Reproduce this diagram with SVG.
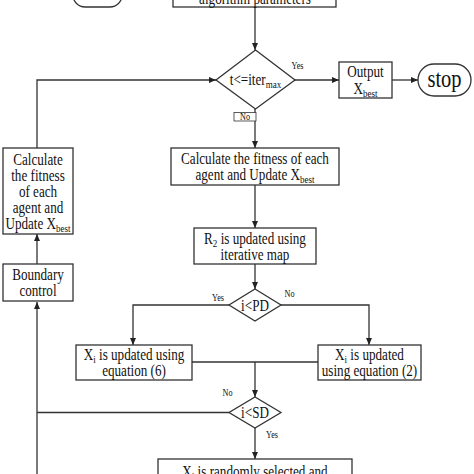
<svg xmlns="http://www.w3.org/2000/svg" width="474" height="474" viewBox="0 0 474 474">
<style>
.box{fill:#fff;stroke:#333;stroke-width:1.3}
.ln{fill:none;stroke:#333;stroke-width:1.3}
.t{font-family:"Liberation Serif","Times New Roman",serif;font-size:16px;fill:#111;text-anchor:middle}
.s{font-size:11px}
.sm{font-family:"Liberation Serif","Times New Roman",serif;font-size:10px;fill:#111;text-anchor:middle}
</style>
<defs>
<marker id="arr" markerUnits="userSpaceOnUse" markerWidth="7" markerHeight="6" refX="7" refY="3" orient="auto">
<path d="M0,0 L7,3 L0,6 z" fill="#222"/>
</marker>
</defs>
<rect width="474" height="474" fill="#fff"/>
<g id="connectors">
<path class="ln" d="M255,7 V50" marker-end="url(#arr)"/>
<path class="ln" d="M295,80 H339" marker-end="url(#arr)"/>
<path class="ln" d="M392,80 H418" marker-end="url(#arr)"/>
<path class="ln" d="M255,109 V148" marker-end="url(#arr)"/>
<path class="ln" d="M37,148 V80 H216" marker-end="url(#arr)"/>
<path class="ln" d="M255,185 V228" marker-end="url(#arr)"/>
<path class="ln" d="M255,264 V289" marker-end="url(#arr)"/>
<path class="ln" d="M229,305 H133 V345" marker-end="url(#arr)"/>
<path class="ln" d="M281,305 H369 V345" marker-end="url(#arr)"/>
<path class="ln" d="M192,362 H318"/>
<path class="ln" d="M255,362 V397" marker-end="url(#arr)"/>
<path class="ln" d="M229,412.5 H37"/>
<path class="ln" d="M255,428 V459" marker-end="url(#arr)"/>
<path class="ln" d="M37,480 V302" marker-end="url(#arr)"/>
<path class="ln" d="M37,264 V234" marker-end="url(#arr)"/>
</g>
<g id="start">
<rect class="box" x="73" y="-25" width="49" height="32" rx="12"/>
</g>
<g id="init">
<rect class="box" x="173" y="-30" width="163" height="37"/>
<text class="t" transform="translate(255,3.5) scale(0.82,1)">algorithm parameters</text>
</g>
<g id="cond-iter">
<polygon class="box" points="255.5,50 295,80 255.5,109 216,80"/>
<text class="t" transform="translate(255.5,85) scale(0.82,1)">t&lt;=iter<tspan class="s" dy="3">max</tspan></text>
<text class="sm" transform="translate(297.5,69) scale(0.82,1)">Yes</text>
<rect x="234" y="112.5" width="22" height="8.5" fill="#fff" stroke="#333" stroke-width="0.8"/>
<text class="sm" transform="translate(245,120) scale(0.82,1)">No</text>
</g>
<g id="output">
<rect class="box" x="339" y="62" width="53" height="36"/>
<text class="t" transform="translate(365.5,77) scale(0.82,1)">Output</text>
<text class="t" transform="translate(365.5,94) scale(0.82,1)">X<tspan class="s" dy="3">best</tspan></text>
</g>
<g id="stop">
<rect class="box" x="418" y="64" width="53" height="32" rx="16"/>
<text class="t" style="font-size:25px" transform="translate(444.5,86.5) scale(0.82,1)">stop</text>
</g>
<g id="fitness">
<rect class="box" x="171" y="148" width="168" height="37"/>
<text class="t" transform="translate(255,164) scale(0.82,1)">Calculate the fitness of each</text>
<text class="t" transform="translate(255,180) scale(0.82,1)">agent and Update X<tspan class="s" dy="3">best</tspan></text>
</g>
<g id="fitness-left">
<rect class="box" x="3" y="148" width="70" height="86"/>
<text class="t" transform="translate(38,164.5) scale(0.82,1)">Calculate</text>
<text class="t" transform="translate(38,180.5) scale(0.82,1)">the fitness</text>
<text class="t" transform="translate(38,196.5) scale(0.82,1)">of each</text>
<text class="t" transform="translate(38,212.5) scale(0.82,1)">agent and</text>
<text class="t" transform="translate(38,228.5) scale(0.82,1)">Update X<tspan class="s" dy="3">best</tspan></text>
</g>
<g id="boundary">
<rect class="box" x="3" y="264" width="70" height="37"/>
<text class="t" transform="translate(38,279.5) scale(0.82,1)">Boundary</text>
<text class="t" transform="translate(38,296) scale(0.82,1)">control</text>
</g>
<g id="r2">
<rect class="box" x="194" y="228" width="122" height="36"/>
<text class="t" transform="translate(255,243.5) scale(0.82,1)">R<tspan class="s" dy="3">2</tspan><tspan dy="-3"> is updated using</tspan></text>
<text class="t" transform="translate(255,259.5) scale(0.82,1)">iterative map</text>
</g>
<g id="cond-pd">
<polygon class="box" points="255,289 281,305 255,321 229,305"/>
<text class="t" transform="translate(255,310.5) scale(0.82,1)">i&lt;PD</text>
<text class="sm" transform="translate(218,301) scale(0.82,1)">Yes</text>
<text class="sm" transform="translate(289.5,297) scale(0.82,1)">No</text>
</g>
<g id="eq6">
<rect class="box" x="76" y="345" width="116" height="35"/>
<text class="t" transform="translate(134,360) scale(0.82,1)">X<tspan class="s" dy="3">i</tspan><tspan dy="-3"> is updated using</tspan></text>
<text class="t" transform="translate(134,376) scale(0.82,1)">equation (6)</text>
</g>
<g id="eq2">
<rect class="box" x="318" y="345" width="103" height="35"/>
<text class="t" transform="translate(369.5,360) scale(0.82,1)">X<tspan class="s" dy="3">i</tspan><tspan dy="-3"> is updated</tspan></text>
<text class="t" transform="translate(369.5,376) scale(0.82,1)">using equation (2)</text>
</g>
<g id="cond-sd">
<polygon class="box" points="255,397 281,412.5 255,428 229,412.5"/>
<text class="t" transform="translate(255,418) scale(0.82,1)">i&lt;SD</text>
<text class="sm" transform="translate(227.5,396) scale(0.82,1)">No</text>
<text class="sm" transform="translate(272,438) scale(0.82,1)">Yes</text>
</g>
<g id="random">
<rect class="box" x="158" y="459" width="194" height="40"/>
<text class="t" transform="translate(255,477) scale(0.82,1)">X<tspan class="s" dy="3">i</tspan><tspan dy="-3"> is randomly selected and</tspan></text>
</g>
</svg>
